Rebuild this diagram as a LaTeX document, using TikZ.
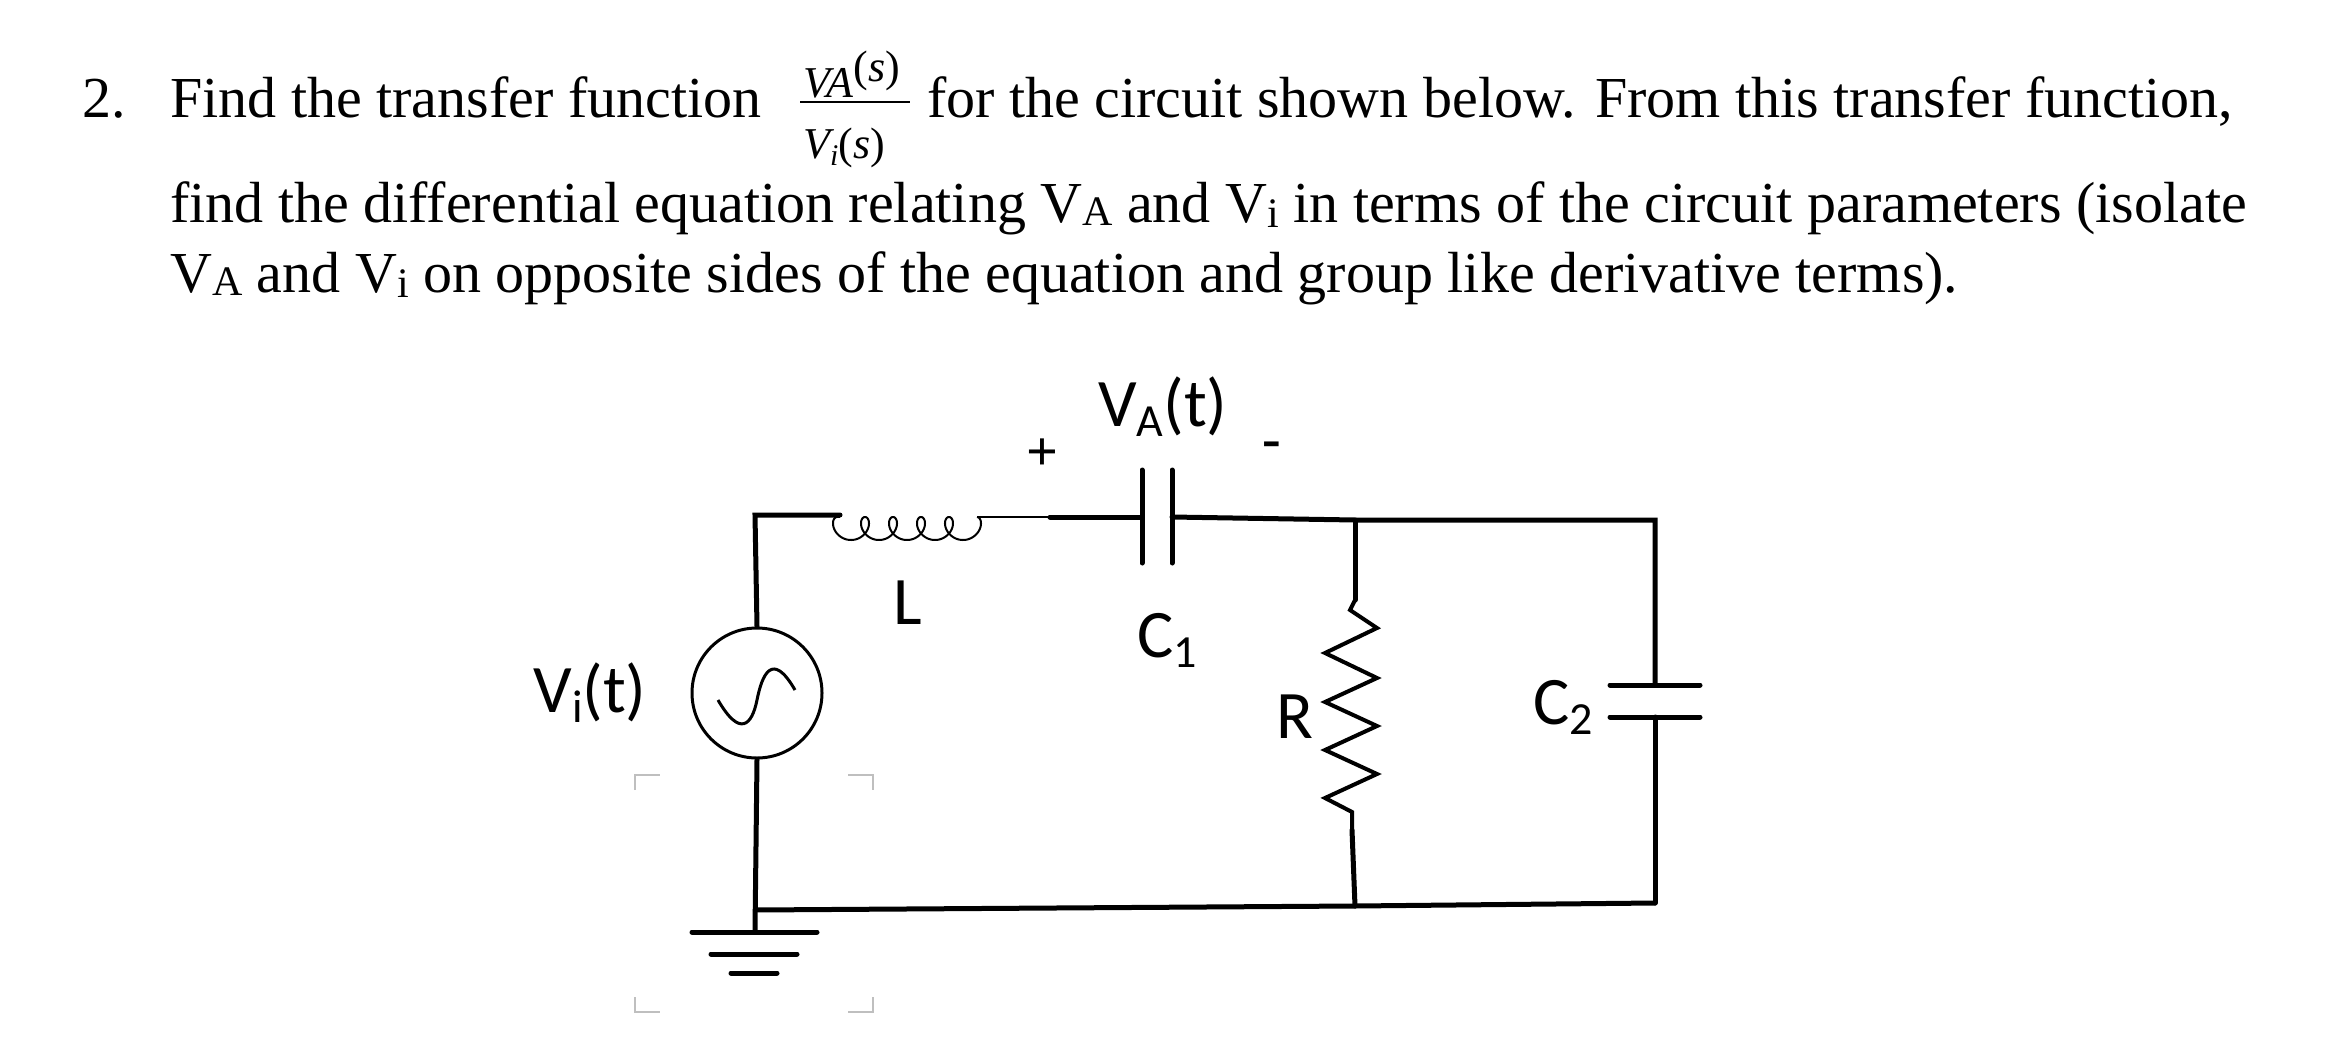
\documentclass[tikz,border=0pt]{standalone}
\usepackage{fontspec}
\setmainfont{Liberation Serif}
\newfontfamily\lab{Carlito}
\begin{document}
\begin{tikzpicture}[x=1pt,y=-1pt,
  wire/.style={line width=5pt,line cap=round},
  thin/.style={line width=2pt},
  txt/.style={anchor=base west,inner sep=0pt,font=\fontsize{58}{58}\selectfont},
  clab/.style={inner sep=0pt,font=\lab\fontsize{68}{68}\selectfont},
  crop/.style={line width=2pt,gray!50}]
\useasboundingbox (0,0) rectangle (2340,1060);
\newcommand{\VA}{V\raisebox{-3pt}{\fontsize{42}{42}\selectfont A}}
\newcommand{\Vi}{V\raisebox{-5pt}{\fontsize{42}{42}\selectfont i}}
\newcommand{\csub}[1]{\raisebox{-10pt}{\fontsize{46}{46}\selectfont #1}}
% text
\node[txt] (n2) at (82,117) {2.};
\node[txt] (t1) at (170,117) {Find the transfer function};
\node[txt,font=\fontsize{44}{44}\selectfont\itshape] (num) at (803,97) {VA\raisebox{16pt}{\upshape(\itshape s\upshape)}};
\node[txt,font=\fontsize{44}{44}\selectfont\itshape] (den) at (803,158) {V\raisebox{-7pt}{\fontsize{30}{30}\selectfont i}\upshape(\itshape s\upshape)};
\draw[line width=2.5pt] (800,102) -- (910,102);
\node[txt] (t1b) at (927,117) {for the circuit shown below. From this transfer function,};
\node[txt] (t2) at (170,222) {find the differential equation relating \VA{} and \Vi{} in terms of the circuit parameters (isolate};
\node[txt] (t3) at (170,292) {\VA{} and \Vi{} on opposite sides of the equation and group like derivative terms).};
% coordinates
\coordinate (tl) at (755,515);
\coordinate (ls) at (837,517);
\coordinate (le) at (977,517);
\coordinate (c1l) at (1142,517);
\coordinate (c1r) at (1172,517);
\coordinate (rt) at (1355,520);
\coordinate (tr) at (1655,520);
\coordinate (br) at (1655,903);
\coordinate (rb) at (1355,906);
\coordinate (bl) at (755,910);
\coordinate (gnd) at (755,932);
\node[draw,circle,line width=3pt,minimum size=130pt,inner sep=0pt] (src) at (757,693) {};
% wires
\draw[wire] (src.north) -- (tl) -- (840,515);
\draw[thin] (840,517) -- (ls);
\draw[thin] plot[domain=0:31.4159,samples=250,variable=\t] ({837+4.456*\t-10*sin(\t r)},{517+11.5*(1-cos(\t r))});
\draw[thin] (le) -- (1050,517);
\draw[wire] (1050,517) -- (c1l);
\draw[wire] (1142,470) -- (1142,563);
\draw[wire] (1172,470) -- (1172,563);
\draw[wire] (c1r) -- (rt) -- (tr) -- (1655,685);
\draw[wire] (1610,685) -- (1700,685);
\draw[wire] (1610,717) -- (1700,717);
\draw[wire] (1655,717) -- (br);
\draw[wire] (rt) -- (1355,600);
\draw[line width=4pt,line join=miter] (1355,600) -- (1350,610) -- (1377,628) -- (1325,653) -- (1377,678) -- (1325,702) -- (1377,726) -- (1325,750) -- (1377,774) -- (1325,798) -- (1352,812) -- (1352,830);
\draw[wire] (1352,830) -- (rb);
\draw[wire] (br) -- (rb) -- (bl);
\draw[wire] (src.south) -- (gnd);
\draw[wire] (692,932) -- (817,932);
\draw[wire] (711,954) -- (797,954);
\draw[wire] (731,973) -- (777,973);
% sine
\draw[line width=3pt] (718,700) .. controls (740,738) and (752,725) .. (757,700) .. controls (762,675) and (772,650) .. (795,690);
% crop marks
\draw[crop] (635,790) -- (635,775) -- (660,775);
\draw[crop] (848,775) -- (873,775) -- (873,790);
\draw[crop] (635,997) -- (635,1012) -- (660,1012);
\draw[crop] (848,1012) -- (873,1012) -- (873,997);
% labels
\node[clab] (vi) at (590,693) {V\csub{i}(t)};
\node[clab] (Ll) at (908,603) {L};
\node[clab] (C1) at (1167,640) {C\csub{1}};
\node[clab] (Rl) at (1295,717) {R};
\node[clab] (C2) at (1563,707) {C\csub{2}};
\node[clab] (VAl) at (1163,407) {V\csub{A}(t)};
\node[inner sep=0pt,font=\bfseries\fontsize{56}{56}\selectfont] (plus) at (1042,455) {+};
\node[inner sep=0pt,font=\bfseries\fontsize{56}{56}\selectfont] (minus) at (1272,450) {-};
\end{tikzpicture}
\end{document}
